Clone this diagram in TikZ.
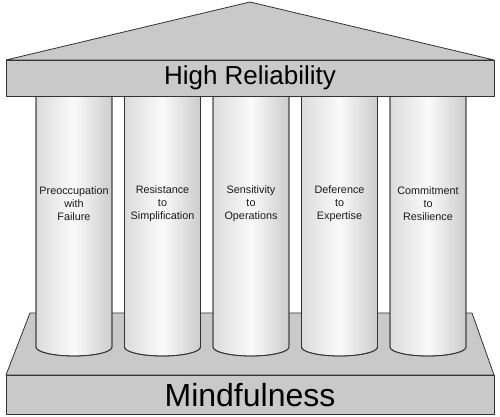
\documentclass[tikz,border=0pt]{standalone}
\usepackage{fontspec}
\setmainfont{Liberation Sans}
\begin{document}
\begin{tikzpicture}[x=1pt,y=1pt,
  stone/.style={fill=black!21, draw=black!80, line width=0.8pt, line join=round},
  pillar/.style={left color=black!14, right color=black!20, middle color=black!2, draw=black!80, line width=0.8pt},
  pillartext/.style={font=\fontsize{10.8}{13}\selectfont, align=center, text=black!90},
  bigtext/.style={text=black}]
\useasboundingbox (0,0) rectangle (500,417);
% base
\draw[stone] (30,104) -- (472,104) -- (494,42) -- (6,42) -- cycle;
\draw[stone] (6,3) rectangle (494,42);
\node[bigtext, font=\fontsize{32}{36}\selectfont] (mind) at (250,22) {Mindfulness};
% pillars
\foreach \i/\x/\t in {1/36/{Preoccupation\\with\\Failure},
                       2/124.5/{Resistance\\to\\Simplification},
                       3/213/{Sensitivity\\to\\Operations},
                       4/301.5/{Deference\\to\\Expertise},
                       5/390/{Commitment\\to\\Resilience}}{
  \shade[pillar] (\x,321) -- (\x,70) arc[start angle=180, end angle=360, x radius=38, y radius=9] -- (\x+76,321) -- cycle;
  \draw[black!80, line width=0.8pt] (\x,321) -- (\x,70) arc[start angle=180, end angle=360, x radius=38, y radius=9] -- (\x+76,321);
  \node[pillartext] (p\i) at (\x+38,213) {\t};
}
% roof
\draw[stone] (6,357) -- (250,415) -- (494,357) -- cycle;
\draw[stone] (6,321) rectangle (494,357);
\node[bigtext, font=\fontsize{26}{30}\selectfont] (high) at (250,339) {High Reliability};
\end{tikzpicture}
\end{document}
